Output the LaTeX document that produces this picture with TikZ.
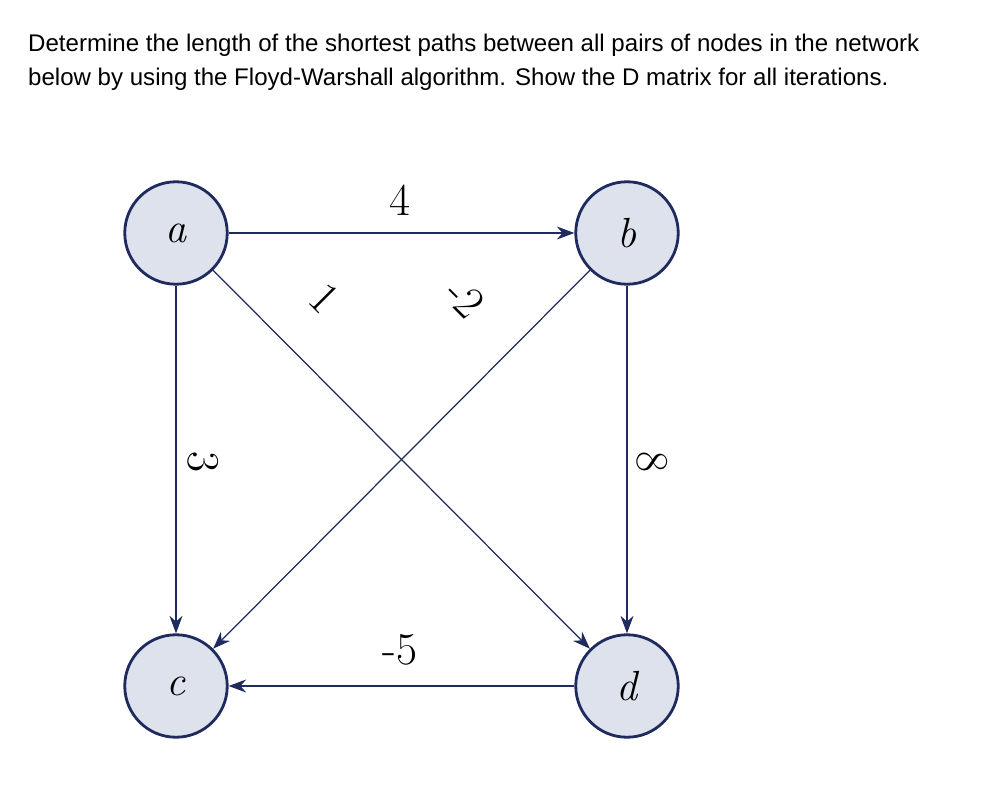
\documentclass[tikz,border=0pt]{standalone}
\usepackage{fontspec}
\newfontfamily\titlefont{Liberation Sans}
\usetikzlibrary{arrows.meta, positioning}
\definecolor{navy}{HTML}{1F2A5E}
\definecolor{nodefill}{HTML}{DDE2EC}
\tikzstyle{vertex} = [circle, draw=navy, line width=1.6pt, fill=nodefill, minimum size=2.05cm, font=\fontsize{24}{28}\selectfont\itshape]
\tikzstyle{arrow} = [navy, line width=0.7pt, -{Stealth[length=3.5mm,width=2.6mm]}]
\tikzstyle{weight} = [font=\fontsize{26}{30}\selectfont, black]
\begin{document}
\begin{tikzpicture}[x=0.02cm, y=-0.02cm]
	\useasboundingbox (0,0) rectangle (1008,804);
	\node (Title) [anchor=north west, align=left, font=\titlefont\fontsize{13.7}{19.5}\selectfont] at (22,28) {Determine the length of the shortest paths between all pairs of nodes in the network\\below by using the Floyd-Warshall algorithm. Show the D matrix for all iterations.};
	\node (a) [vertex] at (176,233) {a};
	\node (b) [vertex] at (627,233) {b};
	\node (c) [vertex] at (176,686) {c};
	\node (d) [vertex] at (627,686) {d};
	\draw [arrow] (a) -- (b);
	\draw [arrow] (a) -- (c);
	\draw [arrow] (a) -- (d);
	\draw [arrow] (b) -- (c);
	\draw [arrow] (b) -- (d);
	\draw [arrow] (d) -- (c);
	\node (W4) [weight] at (400,200) {4};
	\node (W1) [weight, rotate=-45] at (325,298) {1};
	\node (W2) [weight, rotate=-45] at (465,298) {-2};
	\node (W3) [weight, rotate=-90] at (203,462) {3};
	\node (W8) [weight, rotate=-90] at (652,462) {8};
	\node (W5) [weight] at (400,650) {-5};
\end{tikzpicture}
\end{document}
